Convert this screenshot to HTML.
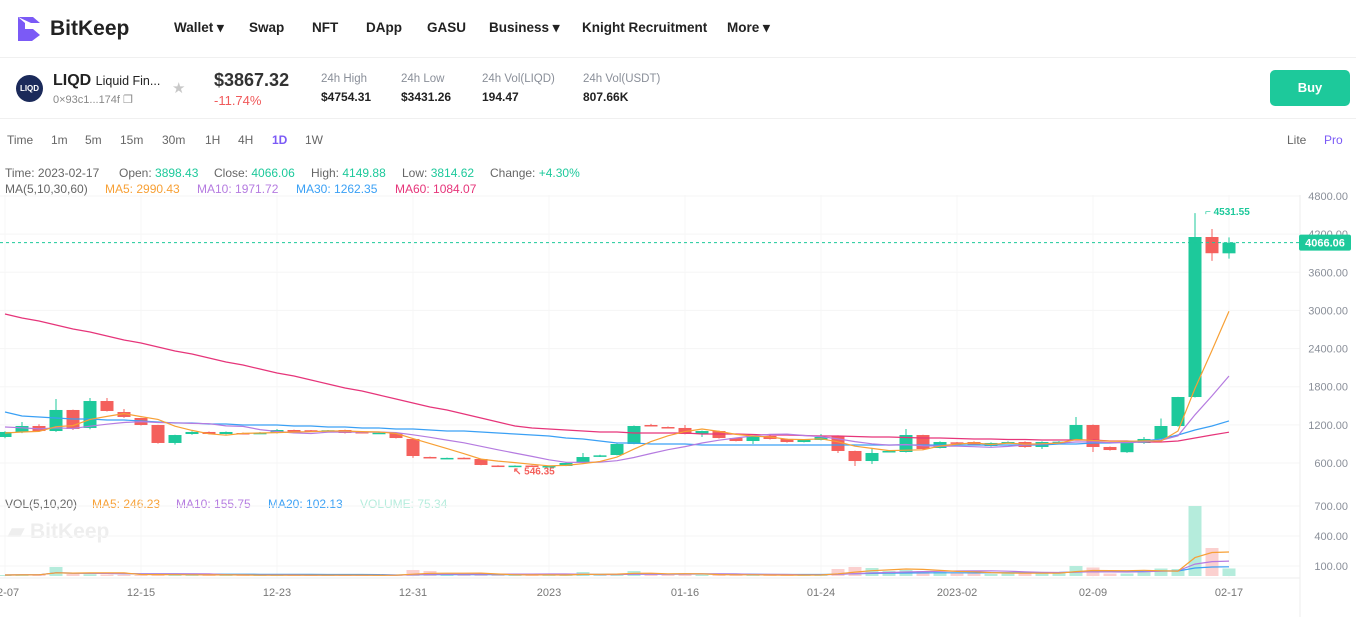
<!DOCTYPE html>
<html><head><meta charset="utf-8">
<style>
*{margin:0;padding:0;box-sizing:border-box}
body{width:1356px;height:617px;overflow:hidden;background:#fff;font-family:"Liberation Sans",sans-serif;color:#222;position:relative}
.abs{position:absolute;white-space:nowrap}
.nav{top:20px;font-size:13.5px;font-weight:bold;color:#222}
.lbl{font-size:11.5px;color:#8a8f99}
.val{font-size:12px;font-weight:bold;color:#222}
.tf{top:133px;font-size:12px;color:#666}
.info{font-size:12px;color:#666}
.g{color:#1dc99b}
</style></head><body>
<div class="abs" style="left:14px;top:14px;width:120px;height:30px">
<svg width="30" height="30" viewBox="0 0 30 30"><path d="M4 3 L19 3 L26 9 L17 9 Z M4 3 L4 27 L11 27 L11 9 Z M11 15 L19 15 L26 21 L18 27 L11 27 Z" fill="#7b5af6"/></svg>
<span class="abs" style="left:36px;top:3px;font-size:21px;font-weight:bold;color:#222">BitKeep</span></div>
<div class="abs nav" style="left:174px">Wallet ▾</div>
<div class="abs nav" style="left:249px">Swap</div>
<div class="abs nav" style="left:312px">NFT</div>
<div class="abs nav" style="left:366px">DApp</div>
<div class="abs nav" style="left:427px">GASU</div>
<div class="abs nav" style="left:489px">Business ▾</div>
<div class="abs nav" style="left:582px">Knight Recruitment</div>
<div class="abs nav" style="left:727px">More ▾</div>
<div class="abs" style="left:0;top:57px;width:1356px;height:1px;background:#f0f0f0"></div>

<div class="abs" style="left:16px;top:75px;width:27px;height:27px;border-radius:50%;background:#1b2a5a;color:#fff;font-size:8px;font-weight:bold;text-align:center;line-height:27px">LIQD</div>
<div class="abs" style="left:53px;top:72px;font-size:16px;font-weight:bold">LIQD <span style="font-size:12.5px;font-weight:normal">Liquid Fin...</span></div>
<div class="abs" style="left:53px;top:93px;font-size:11px;color:#888">0×93c1...174f ❐</div>
<div class="abs" style="left:172px;top:79px;font-size:15px;color:#c8c8c8">★</div>
<div class="abs" style="left:214px;top:70px;font-size:18px;font-weight:bold;color:#333">$3867.32</div>
<div class="abs" style="left:214px;top:93px;font-size:13px;color:#f0595a">-11.74%</div>
<div class="abs lbl" style="left:321px;top:73px">24h High</div>
<div class="abs val" style="left:321px;top:90px">$4754.31</div>
<div class="abs lbl" style="left:401px;top:73px">24h Low</div>
<div class="abs val" style="left:401px;top:90px">$3431.26</div>
<div class="abs lbl" style="left:482px;top:73px">24h Vol(LIQD)</div>
<div class="abs val" style="left:482px;top:90px">194.47</div>
<div class="abs lbl" style="left:583px;top:73px">24h Vol(USDT)</div>
<div class="abs val" style="left:583px;top:90px">807.66K</div>
<div class="abs" style="left:1270px;top:70px;width:80px;height:36px;background:#1dc99b;border-radius:5px;color:#fff;font-weight:bold;font-size:13px;text-align:center;line-height:36px">Buy</div>
<div class="abs" style="left:0;top:118px;width:1356px;height:1px;background:#f0f0f0"></div>

<div class="abs tf" style="left:7px">Time</div>
<div class="abs tf" style="left:51px">1m</div>
<div class="abs tf" style="left:85px">5m</div>
<div class="abs tf" style="left:120px">15m</div>
<div class="abs tf" style="left:162px">30m</div>
<div class="abs tf" style="left:205px">1H</div>
<div class="abs tf" style="left:238px">4H</div>
<div class="abs tf" style="left:272px;color:#7b5af6;font-weight:bold">1D</div>
<div class="abs tf" style="left:305px">1W</div>
<div class="abs tf" style="left:1287px">Lite</div>
<div class="abs tf" style="left:1324px;color:#7b5af6">Pro</div>

<div class="abs info" style="left:5px;top:166px">Time: 2023-02-17</div>
<div class="abs info" style="left:119px;top:166px">Open: <span class="g">3898.43</span></div>
<div class="abs info" style="left:214px;top:166px">Close: <span class="g">4066.06</span></div>
<div class="abs info" style="left:311px;top:166px">High: <span class="g">4149.88</span></div>
<div class="abs info" style="left:402px;top:166px">Low: <span class="g">3814.62</span></div>
<div class="abs info" style="left:490px;top:166px">Change: <span class="g">+4.30%</span></div>

<div class="abs info" style="left:5px;top:182px">MA(5,10,30,60)</div>
<div class="abs info" style="left:105px;top:182px;color:#f7a035">MA5: 2990.43</div>
<div class="abs info" style="left:197px;top:182px;color:#b57be0">MA10: 1971.72</div>
<div class="abs info" style="left:296px;top:182px;color:#3aa0f5">MA30: 1262.35</div>
<div class="abs info" style="left:395px;top:182px;color:#e6357a">MA60: 1084.07</div>

<div class="abs info" style="left:5px;top:497px">VOL(5,10,20)</div>
<div class="abs info" style="left:92px;top:497px;color:#f7a035">MA5: 246.23</div>
<div class="abs info" style="left:176px;top:497px;color:#b57be0">MA10: 155.75</div>
<div class="abs info" style="left:268px;top:497px;color:#3aa0f5">MA20: 102.13</div>
<div class="abs info" style="left:360px;top:497px;color:#b5ecdc">VOLUME: 75.34</div>
<div class="abs" style="left:8px;top:519px;font-size:21px;font-weight:bold;color:#eeeeee">▰ BitKeep</div>

<svg id="chart" class="abs" style="left:0;top:0" width="1356" height="617"></svg>
<script>
const dates=["12-07","12-15","12-23","12-31","2023","01-16","01-24","2023-02","02-09","02-17"];
const dateIdx=[0,8,16,24,32,40,48,56,64,72];
const priceTicks=[600,1200,1800,2400,3000,3600,4200,4800];
const volTicks=[100,400,700];
const opens=[1009,1088,1182,1103,1434,1151,1575,1402,1308,1198,915,1056,1088,1056,1072,1066,1072,1119,1115,1105,1119,1088,1066,1072,978,695,670,682,663,560,550,560,545,553,600,700,726,899,1198,1166,1151,1056,1103,993,946,1025,978,930,962,1025,789,631,773,773,1040,836,925,930,867,915,930,852,925,962,1198,852,770,915,978,1182,1638,4155,3898.43];
const highs=[1100,1245,1210,1607,1440,1622,1622,1449,1310,1200,1045,1100,1095,1095,1080,1085,1135,1125,1120,1120,1125,1095,1080,1080,985,700,685,688,670,565,562,565,558,610,757,730,905,1190,1215,1175,1198,1110,1110,1000,1030,1035,985,970,1056,1035,795,836,795,1135,1045,940,930,940,925,940,940,940,945,1324,1205,860,930,1009,1300,1640,4531.55,4280,4149.88];
const lows=[990,1070,1090,1090,1120,1130,1410,1310,1190,905,890,1045,1050,1050,1050,1060,1065,1100,1100,1100,1065,1065,1060,985,680,670,665,668,565,546.35,548,550,548,550,595,695,720,895,1180,1145,1050,1009,985,940,899,970,920,925,955,757,553,584,765,765,810,830,900,875,860,910,840,820,920,955,773,795,760,900,970,1170,1630,3780,3814.62];
const closes=[1088,1182,1103,1434,1135,1575,1418,1324,1198,915,1040,1088,1056,1088,1056,1075,1119,1103,1105,1115,1072,1072,1076,993,710,675,680,672,569,550,558,548,553,600,694,720,899,1182,1185,1150,1056,1103,993,946,1025,978,930,962,1009,789,631,757,789,1040,820,930,910,883,915,930,852,930,935,1198,852,804,915,978,1182,1638,4155,3900,4066.06];
const priorCloses=[1300,1280,1260,1240,1220,1100,1060,1060,1052];
const ma30=[1402,1339,1324,1308,1292,1292,1276,1276,1261,1245,1229,1229,1213,1213,1198,1198,1198,1182,1182,1166,1166,1151,1151,1135,1135,1119,1103,1103,1088,1072,1056,1040,1025,993,978,946,915,915,899,899,899,883,883,883,883,883,883,883,883,883,883,883,883,883,883,883,883,883,883,883,883,883,899,899,915,915,930,946,978,1040,1119,1182,1262.35];
const ma60=[2944,2881,2834,2771,2708,2661,2598,2535,2488,2425,2362,2315,2252,2189,2142,2079,2016,1969,1906,1843,1780,1733,1670,1607,1544,1481,1434,1371,1308,1245,1182,1151,1135,1119,1103,1088,1088,1072,1072,1072,1072,1056,1056,1056,1048,1040,1040,1033,1025,1025,1017,1009,1009,1001,993,993,985,978,978,970,970,962,962,962,962,946,946,930,930,946,993,1040,1084.07];
const volumes=[10,12,15,90,20,18,15,12,10,14,12,10,8,10,8,6,10,8,8,6,8,8,6,10,60,50,12,10,15,12,10,8,10,12,40,15,20,50,15,12,20,12,10,8,10,8,8,10,15,70,90,80,50,60,50,40,30,30,20,30,30,30,30,100,85,25,25,50,75,70,700,280,75.34];
const lastPrice=4066.06, maxLabel=4531.55, minLabel=546.35;

const svg=document.getElementById('chart');
const NS='http://www.w3.org/2000/svg';
const GREEN='#1dc99b', RED='#f4605c';
const xOf=i=>5+17*i;
const yP=v=>463-(v-600)*0.063571;
const yV=v=>576-v*0.1;
function mk(tag,attrs,parent){const e=document.createElementNS(NS,tag);for(const k in attrs)e.setAttribute(k,attrs[k]);(parent||svg).appendChild(e);return e;}
priceTicks.forEach(t=>{
  const l=mk('line',{x1:0,x2:1300,y1:yP(t),y2:yP(t),stroke:'#f5f5f5'});
  
  
  const tx=mk('text',{x:1348,y:yP(t)+4,'text-anchor':'end','font-size':11,fill:'#8a8f99','font-family':'Liberation Sans'});
  tx.textContent=t.toFixed(2);
  
  
});
volTicks.forEach(t=>{
  const l=mk('line',{x1:0,x2:1300,y1:yV(t),y2:yV(t),stroke:'#f5f5f5'});
  
  
  const tx=mk('text',{x:1348,y:yV(t)+4,'text-anchor':'end','font-size':11,fill:'#8a8f99','font-family':'Liberation Sans'});
  tx.textContent=t.toFixed(2);
  
  
});
dateIdx.forEach((di,k)=>{
  const l=mk('line',{x1:xOf(di),x2:xOf(di),y1:195,y2:578,stroke:'#f7f7f7'});
  
  
  const tx=mk('text',{x:xOf(di),y:596,'text-anchor':'middle','font-size':11,fill:'#777','font-family':'Liberation Sans'});
  tx.textContent=dates[k];
  
  
});
const ax=mk('line',{x1:1300,x2:1300,y1:195,y2:617,stroke:'#eeeeee'});


const bx=mk('line',{x1:0,x2:1300,y1:578,y2:578,stroke:'#eeeeee'});


volumes.forEach((v,i)=>{
  const up=closes[i]>=opens[i];
  const r=mk('rect',{x:xOf(i)-6.5,y:yV(v),width:13,height:576-yV(v),fill:up?'#b5ecdc':'#fbd0cf'});
  
  
});
opens.forEach((o,i)=>{
  const c=closes[i],up=c>=o,col=up?GREEN:RED,x=xOf(i);
  const w=mk('line',{x1:x,x2:x,y1:yP(highs[i]),y2:yP(lows[i]),stroke:col,'stroke-width':1});
  
  
  const t=Math.min(yP(o),yP(c)),h=Math.max(1.5,Math.abs(yP(o)-yP(c)));
  const r=mk('rect',{x:x-6.5,y:t,width:13,height:h,fill:col});
  
  
});
const all=priorCloses.concat(closes);
function sma(arr,n,off){return closes.map((_,i)=>{const e=i+off+1,s=Math.max(0,e-n);let sum=0;for(let j=s;j<e;j++)sum+=arr[j];return sum/(e-s);});}
const ma5=sma(all,5,priorCloses.length), ma10=sma(all,10,priorCloses.length);
function line(vals,yf,col,name){
  const d=vals.map((v,i)=>(i?'L':'M')+xOf(i)+' '+yf(v).toFixed(1)).join(' ');
  const p=mk('path',{d:d,fill:'none',stroke:col,'stroke-width':1.2});
  
  
}
line(ma60,yP,'#e6357a','ma60-line');
line(ma30,yP,'#3aa0f5','ma30-line');
line(ma10,yP,'#b57be0','ma10-line');
line(ma5,yP,'#f7a035','ma5-line');
const v5=sma(volumes,5,0),v10=sma(volumes,10,0),v20=sma(volumes,20,0);
line(v20,yV,'#3aa0f5','vol-ma20-line');
line(v10,yV,'#b57be0','vol-ma10-line');
line(v5,yV,'#f7a035','vol-ma5-line');
const ly=yP(lastPrice);
const dl=mk('line',{x1:0,x2:1300,y1:ly,y2:ly,stroke:GREEN,'stroke-dasharray':'3,3'});


const lb=mk('rect',{x:1299,y:ly-8,width:52,height:16,fill:GREEN,rx:2});


const lt=mk('text',{x:1325,y:ly+4,'text-anchor':'middle','font-size':11,'font-weight':'bold',fill:'#fff','font-family':'Liberation Sans'});
lt.textContent=lastPrice.toFixed(2);


const iMax=highs.indexOf(maxLabel), iMin=lows.indexOf(minLabel);
const mx=mk('text',{x:xOf(iMax)+10,y:yP(maxLabel)+2,'font-size':10,'font-weight':'bold',fill:GREEN,'font-family':'Liberation Sans'});
mx.textContent='⌐ '+maxLabel.toFixed(2);


const mn=mk('text',{x:xOf(iMin)+15,y:yP(minLabel)+8,'font-size':10,'font-weight':'bold',fill:RED,'font-family':'Liberation Sans'});
mn.textContent='↖ '+minLabel.toFixed(2);


</script>
</body></html>
